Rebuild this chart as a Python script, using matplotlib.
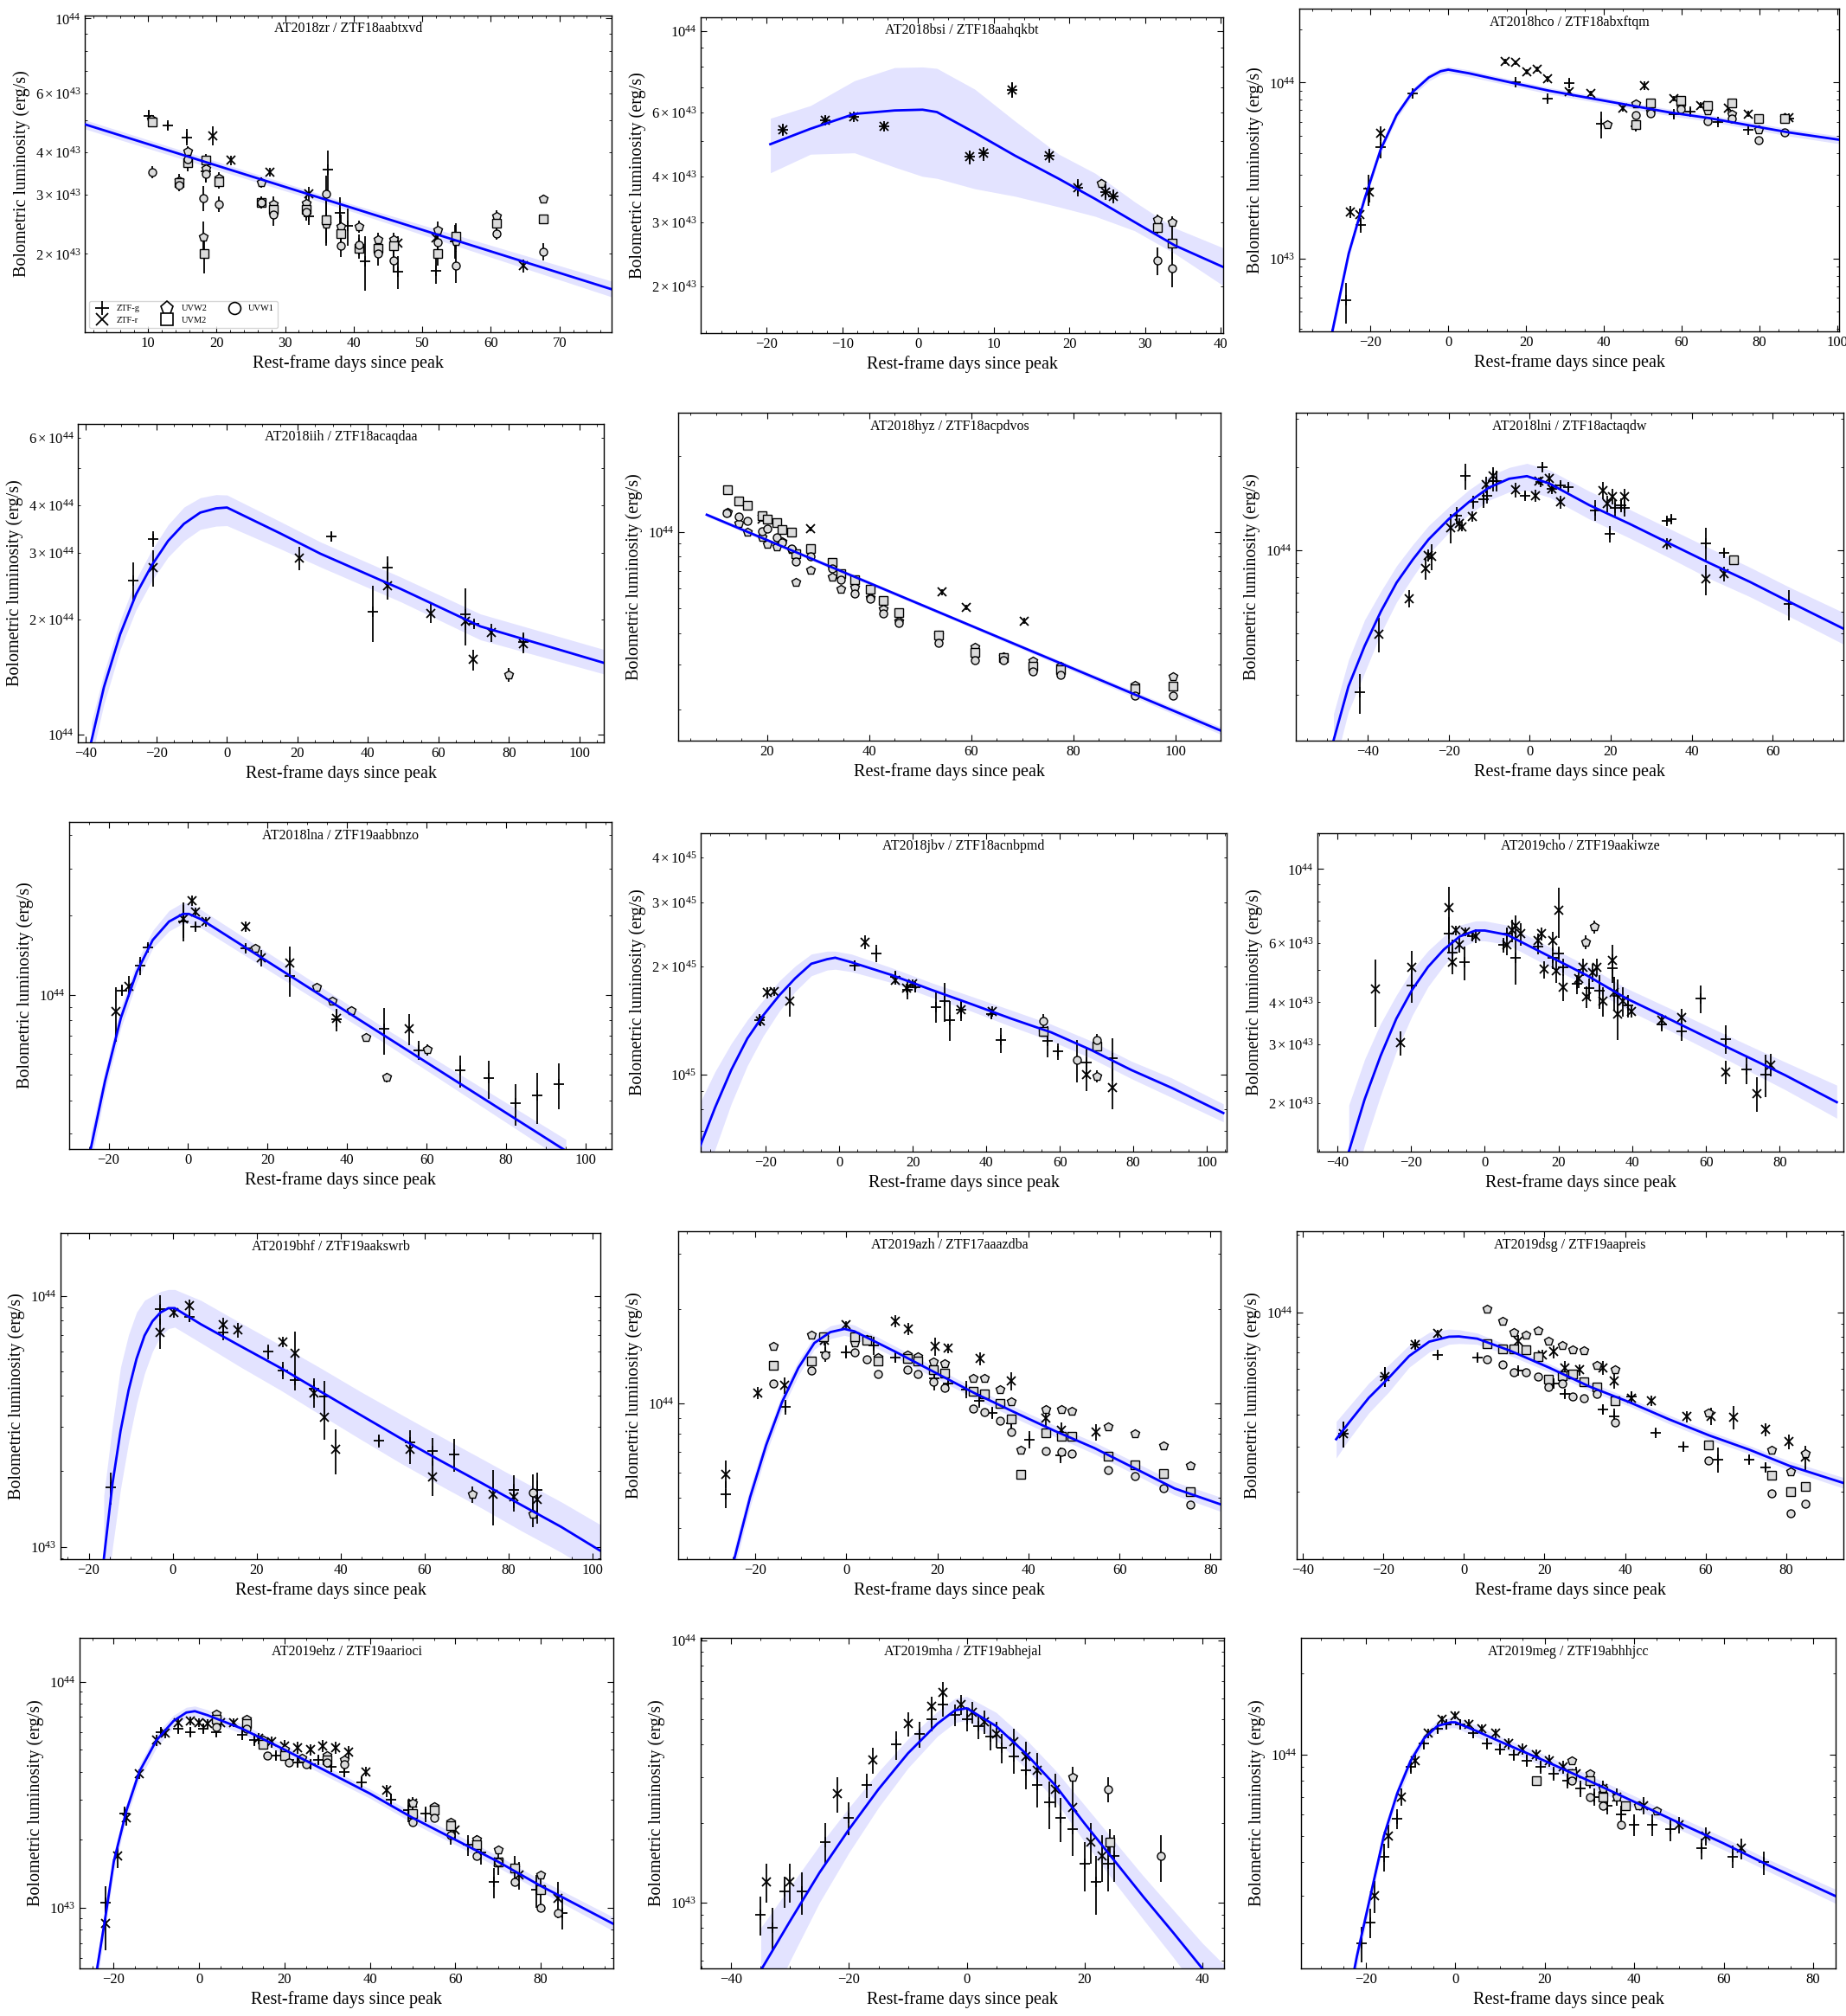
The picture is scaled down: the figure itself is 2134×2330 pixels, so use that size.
import matplotlib
matplotlib.use("Agg")
import matplotlib.pyplot as plt
from matplotlib.ticker import MultipleLocator, AutoMinorLocator
from matplotlib.lines import Line2D
import numpy as np

plt.rcParams.update({
    "font.family": ["Liberation Serif", "DejaVu Serif"],
    "mathtext.fontset": "custom",
    "mathtext.rm": "Liberation Serif",
    "mathtext.it": "Liberation Serif:italic",
    "mathtext.bf": "Liberation Serif:bold",
    "axes.linewidth": 1.0,
    "xtick.direction": "in", "ytick.direction": "in",
    "xtick.top": True, "ytick.right": True,
    "xtick.major.size": 5, "ytick.major.size": 5,
    "xtick.minor.size": 2.5, "ytick.minor.size": 2.5,
    "xtick.labelsize": 12, "ytick.labelsize": 12,
})

# ---------------- data: (day, L, err) in units given per panel ----------------
# Panel 1  AT2018zr  (1e43)
P1_G = [(10.1,5.15,0.2),(12.9,4.80,0.12),(15.7,4.44,0.25),(18.4,3.52,0.25),(33.4,2.59,0.15),(36.2,3.56,0.5),(38.0,2.64,0.3),(39.1,2.42,0.3),(41.7,1.90,0.35),(46.5,1.77,0.2),(52.0,1.78,0.15),(54.8,2.18,0.25)]
P1_R = [(19.5,4.49,0.3),(22.1,3.79,0.12),(27.8,3.50,0.1),(33.4,3.02,0.15),(46.5,2.15,0.1),(52.0,2.23,0.1),(64.7,1.84,0.08)]
P1_W2 = [(10.5,5.02,0.15),(15.8,4.03,0.15),(14.5,3.30,0.15),(18.4,3.57,0.25),(18.1,2.24,0.25),(20.3,3.35,0.15),(26.5,3.26,0.12),(28.3,2.81,0.15),(33.1,2.83,0.15),(36.0,2.45,0.3),(38.1,2.41,0.2),(40.8,2.41,0.1),(43.6,2.21,0.1),(45.8,2.21,0.1),(52.3,2.35,0.15),(54.9,2.18,0.15),(60.8,2.59,0.1),(67.7,2.91,0.08)]
P1_M2 = [(10.6,4.94,0.15),(15.8,3.72,0.2),(14.5,3.26,0.12),(18.4,3.80,0.15),(18.2,2.00,0.25),(20.3,3.27,0.15),(26.5,2.85,0.12),(28.3,2.71,0.15),(33.1,2.71,0.15),(36.0,2.52,0.4),(38.1,2.30,0.2),(40.8,2.08,0.15),(43.6,2.08,0.1),(45.8,2.11,0.15),(52.3,2.00,0.15),(54.9,2.26,0.2),(60.8,2.47,0.1),(67.7,2.54,0.08)]
P1_W1 = [(10.6,3.50,0.15),(15.8,3.83,0.2),(14.5,3.19,0.12),(18.4,3.46,0.2),(18.1,2.93,0.25),(20.3,2.81,0.15),(26.5,2.85,0.12),(28.3,2.62,0.2),(33.1,2.66,0.15),(36.0,3.02,0.4),(38.1,2.11,0.15),(40.8,2.13,0.15),(43.6,2.00,0.15),(45.8,1.91,0.15),(52.3,2.17,0.15),(54.9,1.84,0.2),(60.8,2.30,0.1),(67.7,2.03,0.12)]
P1_MT = [0.8, 40.0, 77.6]
P1_ML = [4.85, 2.73, 1.57]
P1_MU = [5.00, 2.80, 1.66]
P1_MD = [4.70, 2.66, 1.49]

# Panel 2  AT2018bsi  (1e43)
P2_G = [(-17.9,5.37,0.2),(-12.2,5.69,0.15),(-8.5,5.82,0.1),(-4.5,5.47,0.12),(6.8,4.52,0.2),(8.7,4.62,0.2),(12.4,6.9,0.35),(17.3,4.55,0.2),(21.1,3.73,0.2),(24.8,3.63,0.18),(25.8,3.53,0.15)]
P2_R = [(-17.9,5.37,0.15),(-12.2,5.69,0.12),(-8.5,5.82,0.1),(-4.5,5.47,0.1),(6.8,4.52,0.15),(8.7,4.62,0.15),(12.4,6.9,0.3),(17.3,4.55,0.15),(21.1,3.73,0.15),(24.8,3.63,0.15),(25.8,3.53,0.12)]
P2_W2 = [(24.2,3.83,0.1),(31.6,3.04,0.1),(33.6,2.99,0.12)]
P2_M2 = [(31.6,2.89,0.1),(33.6,2.62,0.25)]
P2_W1 = [(31.6,2.35,0.2),(33.6,2.24,0.25)]
P2_MT = [-19.5,-14.2,-8.4,-3.1,0.6,2.5,7.5,12.8,18.6,23.4,28.6,33.9,40.3]
P2_ML = [4.90,5.40,5.93,6.06,6.09,6.00,5.27,4.56,3.94,3.47,3.00,2.59,2.26]
P2_MU = [5.77,6.25,7.31,7.94,7.97,7.90,6.93,5.67,4.60,4.08,3.41,2.89,2.55]
P2_MD = [4.09,4.60,4.64,4.24,4.00,3.95,3.70,3.53,3.30,3.11,2.84,2.46,2.01]

# Panel 3  AT2018hco  (1e43)
P3_G = [(-26.2,0.58,0.15),(-22.6,1.56,0.15),(-20.5,2.5,0.5),(-17.4,4.3,0.6),(-9.2,8.67,0.3),(17.4,10.07,0.3),(25.5,8.13,0.3),(31.0,9.89,0.6),(39.3,5.83,1.0),(48.3,5.62,0.3),(58.0,6.58,0.3),(62.2,6.86,0.3),(69.3,5.99,0.2),(77.2,5.41,0.2),(87.7,6.24,0.3)]
P3_R = [(-25.1,1.85,0.15),(-22.8,1.78,0.15),(-20.3,2.38,0.3),(-17.4,5.15,0.5),(14.7,13.2,0.4),(17.4,13.0,0.4),(20.1,11.5,0.4),(22.8,11.9,0.4),(25.5,10.5,0.4),(31.0,8.9,0.3),(36.7,8.67,0.3),(45.0,7.15,0.3),(50.4,9.63,0.5),(58.0,8.13,0.3),(65.0,7.45,0.3),(72.0,7.18,0.3),(77.2,6.65,0.25),(87.7,6.3,0.3)]
P3_W2 = [(40.8,5.79,0.2),(48.3,7.54,0.2),(51.9,6.86,0.2),(59.8,7.31,0.2),(66.7,6.96,0.2),(73.0,6.58,0.2),(79.8,5.37,0.2),(86.4,6.29,0.2)]
P3_M2 = [(48.3,5.79,0.2),(51.9,7.68,0.2),(59.8,7.94,0.2),(66.7,7.45,0.2),(73.0,7.68,0.2),(79.8,6.24,0.2),(86.4,6.24,0.2)]
P3_W1 = [(48.3,6.53,0.2),(51.9,6.66,0.2),(59.8,7.12,0.2),(66.7,6.06,0.2),(73.0,6.28,0.2),(79.8,4.71,0.2),(86.4,5.21,0.2)]
P3_MT = [-29.8,-25.6,-21.5,-17.4,-13.3,-9.2,-5.0,-2.0,0.0,5.3,15.6,25.9,36.2,46.5,56.8,67.1,77.4,87.7,100.5]
P3_ML = [0.387,1.07,2.19,4.16,6.53,8.83,10.7,11.6,11.85,11.3,10.07,9.0,8.18,7.45,6.78,6.29,5.72,5.21,4.74]
P3_MU = [0.42,1.14,2.32,4.38,6.85,9.25,11.2,12.1,12.35,11.8,10.5,9.38,8.52,7.77,7.08,6.57,5.98,5.46,4.98]
P3_MD = [0.36,1.00,2.07,3.95,6.22,8.42,10.2,11.1,11.35,10.8,9.65,8.63,7.85,7.14,6.49,6.02,5.47,4.97,4.50]

# Panel 4  AT2018iih  (1e44)
P4_G = [(-26.6,2.53,0.3),(-20.9,3.26,0.15),(29.7,3.30,0.1),(41.3,2.10,0.35),(45.5,2.74,0.2),(67.6,2.06,0.35),(70.2,1.95,0.04),(84.1,1.75,0.1)]
P4_R = [(-20.9,2.74,0.3),(20.6,2.90,0.2),(45.5,2.46,0.2),(57.8,2.08,0.12),(67.6,1.98,0.1),(69.8,1.57,0.1),(75.1,1.85,0.1),(84.1,1.73,0.1)]
P4_W2 = [(79.9,1.43,0.06)]
P4_M2 = []
P4_W1 = []
P4_MT = [-38.5,-34.9,-30.3,-25.8,-21.3,-16.7,-12.2,-7.6,-3.1,0.0,15.1,26.5,49.2,71.9,106.9]
P4_ML = [0.957,1.33,1.83,2.33,2.78,3.22,3.57,3.82,3.92,3.94,3.37,2.98,2.41,1.92,1.54]
P4_MU = [1.07,1.45,1.99,2.55,3.05,3.55,3.95,4.18,4.26,4.25,3.62,3.20,2.59,2.07,1.67]
P4_MD = [0.86,1.20,1.67,2.12,2.53,2.92,3.22,3.45,3.52,3.53,3.07,2.75,2.23,1.77,1.44]

# Panel 5  AT2018hyz  (1e44)
P5_G = []
P5_R = [(19.1,1.12,0.02),(28.5,1.03,0.02),(54.3,0.58,0.015),(59.0,0.505,0.012),(70.4,0.447,0.012)]
P5_W2 = [(12.2,1.20),(14.4,1.08),(16.1,1.00),(19.1,0.957),(20.0,0.896),(22.0,0.873),(23.0,0.92),(24.8,0.855),(25.6,0.635),(28.5,0.707),(32.7,0.667),(34.5,0.598),(37.2,0.603),(40.3,0.55),(42.8,0.496),(45.8,0.447),(53.7,0.394),(60.7,0.351),(66.4,0.324),(72.1,0.310),(77.6,0.296),(92.1,0.25),(99.5,0.27)]
P5_M2 = [(12.2,1.47),(14.5,1.33),(16.1,1.27),(19.1,1.16),(20.0,1.12),(22.0,1.09),(23.0,1.02),(24.8,1.00),(25.7,0.822),(28.5,0.862),(32.7,0.760),(34.5,0.685),(37.2,0.647),(40.3,0.594),(42.8,0.539),(45.8,0.483),(53.7,0.392),(60.7,0.335),(66.4,0.32),(72.1,0.296),(77.6,0.288),(92.1,0.241),(99.5,0.248)]
P5_W1 = [(12.1,1.19),(14.4,1.15),(16.1,1.11),(19.1,1.01),(20.0,1.03),(22.0,0.952),(23.0,0.908),(24.8,0.862),(25.6,0.766),(28.5,0.801),(32.7,0.718),(34.5,0.647),(37.2,0.575),(40.3,0.546),(42.8,0.48),(45.8,0.438),(53.7,0.365),(60.7,0.313),(66.4,0.312),(72.1,0.282),(77.6,0.275),(92.1,0.227),(99.5,0.227)]
P5_MT = [8.2, 60.6, 108.9]
P5_ML = [1.17, 0.423, 0.1655]
P5_MU = [1.19, 0.430, 0.171]
P5_MD = [1.15, 0.416, 0.160]

# Panel 6  AT2018lni  (1e44)
P6_G = [(-42.0,0.306,0.05),(-18.0,1.34,0.1),(-15.8,1.86,0.2),(-13.9,1.50,0.08),(-11.5,1.53,0.1),(-10.6,1.58,0.1),(-9.1,1.79,0.15),(-8.3,1.79,0.15),(-1.2,1.58,0.05),(2.7,1.77,0.05),(3.2,2.01,0.08),(5.5,1.67,0.05),(7.5,1.72,0.05),(9.5,1.70,0.05),(16.2,1.40,0.12),(19.8,1.15,0.08),(21.1,1.43,0.1),(22.6,1.46,0.08),(23.4,1.43,0.1),(33.8,1.28,0.04),(35.0,1.30,0.05),(43.6,1.06,0.15),(48.1,0.98,0.03),(64.0,0.638,0.08)]
P6_R = [(-37.3,0.498,0.07),(-29.9,0.669,0.05),(-25.7,0.861,0.08),(-25.0,0.96,0.05),(-24.2,0.95,0.1),(-19.5,1.21,0.15),(-17.5,1.25,0.06),(-16.7,1.22,0.05),(-14.1,1.33,0.06),(-10.8,1.73,0.12),(-9.1,1.86,0.15),(-3.6,1.66,0.1),(1.4,1.58,0.08),(2.3,1.79,0.05),(4.8,1.82,0.08),(5.5,1.67,0.05),(7.7,1.50,0.08),(18.1,1.65,0.12),(19.1,1.48,0.1),(20.4,1.57,0.1),(23.4,1.57,0.1),(34.0,1.06,0.05),(43.6,0.786,0.1),(47.9,0.821,0.05)]
P6_W2 = []
P6_M2 = [(50.4,0.926,0.02)]
P6_W1 = []
P6_MT = [-48.5,-44.8,-40.8,-36.8,-32.9,-28.9,-25.0,-20.0,-15.0,-10.1,-5.1,-0.7,4.8,14.7,24.6,34.5,44.4,54.3,64.2,77.5]
P6_ML = [0.204,0.321,0.450,0.60,0.764,0.926,1.096,1.30,1.50,1.69,1.82,1.86,1.75,1.46,1.25,1.06,0.90,0.77,0.65,0.52]
P6_MU = [0.255,0.40,0.56,0.71,0.88,1.05,1.23,1.44,1.66,1.86,2.00,2.07,1.96,1.64,1.41,1.20,1.02,0.87,0.735,0.595]
P6_MD = [0.16,0.26,0.36,0.50,0.65,0.80,0.97,1.16,1.35,1.52,1.63,1.65,1.56,1.30,1.11,0.94,0.79,0.68,0.575,0.457]

# Panel 7  AT2018lna  (1e44)
P7_G = [(-16.6,1.04,0.05),(-12.1,1.29,0.1),(-10.1,1.51,0.05),(-1.1,1.89,0.3),(1.8,1.81,0.05),(14.5,1.50,0.05),(25.6,1.18,0.2),(37.3,0.808,0.08),(49.2,0.744,0.15),(57.9,0.618,0.05),(68.5,0.518,0.07),(75.7,0.484,0.08),(82.3,0.391,0.07),(87.8,0.417,0.09),(93.2,0.461,0.09)]
P7_R = [(-18.2,0.865,0.2),(-14.9,1.08,0.1),(-1.1,1.94,0.3),(0.9,2.27,0.1),(1.8,2.06,0.07),(4.5,1.89,0.08),(14.5,1.81,0.08),(18.3,1.38,0.1),(25.6,1.32,0.2),(37.3,0.818,0.06),(55.6,0.744,0.1)]
P7_W2 = [(16.8,1.50,0.03),(32.4,1.07,0.03),(36.3,0.947,0.02),(41.1,0.871,0.03),(44.7,0.69,0.02),(50.0,0.489,0.02),(60.1,0.622,0.03)]
P7_M2 = []
P7_W1 = []
P7_MT = [-24.5,-20.9,-16.9,-12.9,-8.9,-4.8,-1.3,0.2,3.2,50.0,95.0]
P7_ML = [0.262,0.472,0.819,1.22,1.61,1.89,2.02,2.02,1.93,0.692,0.258]
P7_MU = [0.30,0.52,0.90,1.33,1.75,2.08,2.23,2.22,2.10,0.74,0.285]
P7_MD = [0.23,0.43,0.75,1.12,1.50,1.74,1.86,1.86,1.79,0.65,0.235]

# Panel 8  AT2018jbv  (1e45)
P8_G = [(-21.6,1.42,0.05),(4.1,2.01,0.06),(10.0,2.17,0.12),(15.2,1.87,0.07),(18.5,1.72,0.1),(20.7,1.75,0.06),(26.4,1.54,0.15),(28.6,1.60,0.2),(30.2,1.42,0.18),(33.2,1.51,0.1),(41.4,1.47,0.04),(43.9,1.25,0.1),(56.6,1.24,0.12),(59.6,1.16,0.06),(67.3,1.08,0.1),(74.4,1.11,0.15)]
P8_R = [(-21.5,1.41,0.05),(-19.5,1.69,0.06),(-17.6,1.70,0.05),(-13.5,1.60,0.15),(7.1,2.33,0.1),(15.2,1.83,0.05),(18.3,1.74,0.05),(19.9,1.79,0.05),(33.2,1.51,0.08),(41.7,1.50,0.05),(67.3,1.00,0.1),(74.4,0.92,0.12)]
P8_W2 = [(55.5,1.31,0.03),(70.2,0.99,0.04)]
P8_M2 = [(55.5,1.32,0.03),(70.2,1.20,0.04)]
P8_W1 = [(55.5,1.41,0.06),(64.6,1.10,0.15),(70.2,1.25,0.05)]
P8_MT = [-38.3,-33.8,-29.4,-25.0,-20.7,-16.3,-12.0,-7.6,-3.3,-1.1,3.3,14.2,25.0,35.9,46.8,57.7,68.6,79.5,90.4,104.5]
P8_ML = [0.617,0.81,1.03,1.26,1.46,1.66,1.85,2.03,2.09,2.11,2.05,1.89,1.72,1.57,1.43,1.31,1.17,1.03,0.92,0.783]
P8_MU = [0.82,1.02,1.22,1.42,1.61,1.82,2.00,2.16,2.20,2.20,2.16,1.98,1.80,1.65,1.51,1.38,1.24,1.09,0.98,0.83]
P8_MD = [0.50,0.62,0.83,1.06,1.28,1.50,1.70,1.88,1.95,1.96,1.93,1.80,1.64,1.50,1.36,1.24,1.11,0.975,0.865,0.74]

# Panel 9  AT2019cho  (1e43)
P9_G = [(-19.7,4.49,0.5),(-9.7,6.4,0.8),(-8.9,5.64,0.5),(-5.5,5.26,0.6),(-3.3,6.3,0.2),(5.1,5.93,0.3),(6.1,6.4,0.3),(8.3,5.42,0.9),(14.5,5.87,0.3),(18.5,5.42,0.4),(20.1,5.58,0.3),(21.2,5.1,0.3),(25.0,4.53,0.3),(28.2,4.40,0.3),(31.1,4.32,0.5),(34.7,5.06,0.5),(36.1,4.19,0.5),(38.8,3.91,0.3),(47.9,3.43,0.15),(53.5,3.27,0.2),(58.6,4.10,0.4),(65.4,3.11,0.3),(71.1,2.52,0.25),(76.2,2.43,0.35)]
P9_R = [(-29.6,4.38,1.0),(-22.9,3.02,0.25),(-19.7,5.1,0.6),(-9.7,7.67,1.2),(-8.9,5.26,0.4),(-7.9,6.55,0.2),(-7.0,5.93,0.3),(-5.2,6.5,0.2),(-2.5,6.3,0.3),(6.1,5.93,0.4),(7.4,6.55,0.5),(8.3,6.75,0.5),(9.7,6.4,0.5),(14.5,6.1,0.3),(15.3,6.4,0.3),(16.2,5.01,0.3),(18.5,6.1,0.4),(19.4,4.97,0.4),(20.1,7.52,1.3),(21.2,4.44,0.4),(25.5,4.72,0.3),(26.6,5.1,0.3),(27.7,4.15,0.3),(29.3,4.9,0.3),(30.4,5.1,0.3),(32.0,4.03,0.4),(34.7,5.32,0.6),(35.2,4.27,0.5),(36.1,3.68,0.6),(37.4,4.03,0.4),(39.9,3.75,0.15),(47.9,3.54,0.15),(53.5,3.61,0.2),(65.4,2.47,0.2),(73.8,2.13,0.25),(77.5,2.60,0.2)]
P9_W2 = [(27.4,6.05,0.3),(29.6,6.71,0.3)]
P9_M2 = []
P9_W1 = []
P9_MT = [-36.9,-32.6,-28.3,-24.0,-19.7,-15.4,-11.1,-6.8,-2.5,0.0,6.1,16.9,27.7,38.5,49.2,60.0,70.8,81.5,95.5]
P9_ML = [1.43,2.05,2.76,3.57,4.36,5.10,5.75,6.29,6.55,6.55,6.36,5.53,4.81,4.10,3.60,3.15,2.76,2.42,2.01]
P9_MU = [1.97,2.70,3.45,4.20,5.00,5.70,6.30,6.80,7.00,7.00,6.80,5.90,5.15,4.40,3.88,3.41,3.00,2.65,2.26]
P9_MD = [1.00,1.50,2.10,2.85,3.65,4.45,5.15,5.80,6.10,6.10,5.95,5.15,4.48,3.80,3.33,2.90,2.52,2.19,1.80]

# Panel 10  AT2019bhf  (1e43)
P10_G = [(-14.8,1.72,0.25),(-3.1,8.85,1.2),(4.0,8.24,0.4),(12.1,7.16,0.5),(22.7,6.0,0.4),(26.3,5.05,0.4),(29.1,4.61,0.4),(33.7,4.28,0.4),(36.1,3.98,0.6),(49.1,2.64,0.15),(56.5,2.61,0.3),(62.0,2.41,0.3),(67.0,2.34,0.35),(81.3,1.68,0.25),(86.8,1.68,0.3)]
P10_R = [(-3.1,7.13,1.0),(0.3,8.58,0.4),(4.0,9.16,0.5),(12.1,7.67,0.5),(15.6,7.32,0.5),(26.3,6.55,0.3),(29.1,5.92,1.3),(33.7,4.09,0.5),(36.1,3.27,0.6),(38.8,2.44,0.5),(56.5,2.44,0.3),(62.0,1.90,0.3),(76.3,1.62,0.4),(81.3,1.58,0.2),(86.8,1.54,0.3)]
P10_W2 = [(71.4,1.62,0.12),(85.9,1.35,0.15)]
P10_M2 = []
P10_W1 = [(85.9,1.64,0.3)]
P10_MT = [-16.4,-14.3,-12.4,-10.5,-8.6,-6.7,-4.8,-2.9,-1.0,0.5,6.7,16.2,25.8,35.3,44.8,54.4,63.9,73.5,83.0,92.6,102.1]
P10_ML = [0.893,1.80,2.90,4.20,5.61,6.94,7.92,8.58,8.93,8.93,7.71,6.30,5.15,4.15,3.35,2.70,2.20,1.80,1.47,1.20,0.96]
P10_MU = [1.6,3.1,5.2,7.0,8.6,9.6,10.0,10.4,10.6,10.6,9.6,7.8,6.35,5.15,4.15,3.37,2.75,2.25,1.84,1.51,1.22]
P10_MD = [0.5,1.0,1.7,2.6,3.7,4.9,6.0,6.9,7.4,7.5,6.5,5.2,4.2,3.35,2.68,2.15,1.75,1.43,1.16,0.95,0.76]

# Panel 11  AT2019azh  (1e44)
P11_G = [(-26.4,0.513,0.05),(-13.4,0.973,0.05),(-4.7,1.46,0.1),(0.0,1.46,0.07),(6.0,1.53,0.1),(10.8,1.40,0.05),(19.3,1.20,0.1),(22.4,1.16,0.07),(26.4,1.11,0.07),(29.2,1.02,0.05),(32.1,0.932,0.04),(36.3,0.862,0.05),(40.2,0.767,0.05),(47.0,0.683,0.04)]
P11_R = [(-26.4,0.595,0.06),(-19.5,1.08,0.05),(-13.6,1.14,0.07),(-4.8,1.59,0.06),(0.0,1.78,0.05),(10.8,1.83,0.08),(13.6,1.73,0.08),(19.5,1.52,0.1),(22.4,1.50,0.05),(29.3,1.39,0.07),(36.3,1.18,0.08),(43.9,0.90,0.05),(47.2,0.82,0.05),(54.9,0.809,0.05)]
P11_W2 = [(-16.0,1.52),(-7.6,1.65),(1.8,1.56),(4.6,1.60),(7.0,1.40),(13.4,1.43),(15.8,1.41),(19.1,1.36),(21.6,1.34),(27.9,1.20),(30.3,1.20),(33.7,1.11),(36.3,1.01),(38.4,0.708),(43.9,0.958),(47.3,0.958),(49.5,0.944),(57.6,0.844),(63.3,0.80),(69.7,0.732),(75.6,0.632)]
P11_M2 = [(-16.1,1.32),(-7.6,1.37),(-5.0,1.63),(1.8,1.63),(4.6,1.59),(7.0,1.37),(13.4,1.39),(15.8,1.37),(19.1,1.28),(21.6,1.25),(27.9,1.09),(30.3,1.07),(33.7,1.00),(36.3,0.894),(38.4,0.595),(43.9,0.804),(47.3,0.784),(49.5,0.784),(57.6,0.68),(63.3,0.637),(69.7,0.597),(75.6,0.524)]
P11_W1 = [(-16.0,1.16),(-7.6,1.27),(-4.6,1.43),(1.8,1.46),(4.6,1.38),(7.0,1.24),(13.4,1.28),(15.8,1.24),(19.1,1.17),(21.6,1.12),(27.9,0.965),(30.3,0.938),(33.7,0.88),(36.3,0.809),(43.9,0.705),(47.3,0.70),(49.5,0.693),(57.6,0.614),(63.3,0.585),(69.7,0.535),(75.6,0.476)]
P11_MT = [-24.6,-21.1,-17.6,-14.1,-10.5,-7.0,-3.5,-0.4,1.8,10.5,19.3,28.1,36.9,45.7,54.5,63.3,72.1,82.2]
P11_ML = [0.318,0.502,0.735,1.01,1.30,1.56,1.69,1.73,1.70,1.47,1.26,1.08,0.938,0.818,0.72,0.621,0.535,0.476]
P11_MU = [0.345,0.54,0.785,1.07,1.37,1.64,1.77,1.81,1.78,1.53,1.31,1.12,0.975,0.852,0.752,0.65,0.562,0.502]
P11_MD = [0.295,0.468,0.69,0.955,1.23,1.49,1.61,1.65,1.62,1.41,1.21,1.04,0.90,0.785,0.69,0.594,0.51,0.452]

# Panel 12  AT2019dsg  (1e44)
P12_G = [(-30.0,0.336,0.04),(-19.6,0.563,0.05),(-12.1,0.748,0.03),(-6.4,0.684,0.02),(3.3,0.666,0.02),(13.5,0.593,0.02),(22.2,0.528,0.02),(25.0,0.482,0.02),(34.6,0.418,0.02),(37.4,0.392,0.03),(41.7,0.47,0.02),(47.5,0.34,0.01),(54.5,0.299,0.01),(63.1,0.267,0.03),(70.7,0.267,0.01),(74.9,0.249,0.01)]
P12_R = [(-30.0,0.336,0.04),(-19.6,0.563,0.05),(-12.1,0.748,0.03),(-6.4,0.826,0.03),(13.5,0.774,0.04),(19.5,0.684,0.03),(22.2,0.701,0.04),(25.0,0.608,0.04),(28.8,0.596,0.03),(34.6,0.608,0.04),(37.4,0.542,0.04),(41.7,0.464,0.02),(46.5,0.452,0.02),(55.3,0.392,0.02),(61.4,0.394,0.03),(66.9,0.39,0.04),(74.9,0.349,0.02),(80.6,0.313,0.02),(84.8,0.272,0.03)]
P12_W2 = [(5.8,1.03),(9.5,0.921),(12.4,0.837),(15.4,0.815),(18.5,0.848),(20.9,0.772),(24.5,0.745),(26.9,0.716),(29.7,0.711),(32.9,0.62),(37.6,0.598),(60.7,0.406),(76.3,0.289),(81.0,0.239),(84.8,0.282)]
P12_M2 = [(5.8,0.754),(9.5,0.72),(12.4,0.72),(15.4,0.714),(18.5,0.67),(20.9,0.549),(24.5,0.566),(26.9,0.575),(29.7,0.535),(32.9,0.511),(37.6,0.45),(60.7,0.304),(76.3,0.231),(81.0,0.20),(84.8,0.21)]
P12_W1 = [(5.8,0.654),(9.5,0.625),(12.4,0.585),(15.4,0.582),(18.5,0.563),(20.9,0.511),(24.5,0.528),(26.9,0.47),(29.7,0.464),(32.9,0.482),(37.6,0.372),(60.7,0.265),(76.3,0.197),(81.0,0.164),(84.8,0.179)]
P12_MT = [-31.7,-28.5,-23.6,-18.6,-13.6,-8.6,-3.7,-1.2,3.3,11.2,21.2,31.1,41.1,51.0,60.9,70.9,80.8,94.2]
P12_ML = [0.32,0.372,0.464,0.556,0.675,0.768,0.803,0.805,0.789,0.711,0.608,0.514,0.446,0.382,0.331,0.291,0.252,0.216]
P12_MU = [0.375,0.43,0.53,0.625,0.745,0.835,0.86,0.855,0.83,0.74,0.63,0.535,0.463,0.397,0.344,0.302,0.263,0.227]
P12_MD = [0.27,0.32,0.405,0.49,0.61,0.70,0.75,0.755,0.75,0.68,0.585,0.495,0.43,0.367,0.318,0.28,0.242,0.206]

# Panel 13  AT2019ehz  (1e44)
P13_G = [(-22,0.105,0.02),(-17.5,0.26,0.02),(-9,0.60,0.03),(-5,0.62,0.03),(-2,0.60,0.03),(1,0.62,0.03),(4,0.60,0.03),(10,0.58,0.03),(13,0.55,0.03),(18,0.47,0.02),(21,0.45,0.02),(23,0.44,0.02),(26,0.43,0.02),(28,0.45,0.02),(31,0.42,0.02),(34,0.40,0.02),(38,0.36,0.02),(45,0.30,0.02),(49,0.27,0.03),(53,0.26,0.02),(59,0.21,0.02),(63,0.19,0.02),(66,0.175,0.02),(69,0.13,0.02),(74,0.15,0.02),(79,0.12,0.02),(85,0.095,0.015)]
P13_R = [(-22,0.085,0.02),(-19,0.17,0.02),(-17,0.25,0.02),(-14,0.39,0.02),(-10,0.55,0.03),(-8,0.59,0.03),(-5,0.66,0.03),(-2,0.67,0.03),(0,0.66,0.03),(2,0.65,0.03),(5,0.66,0.03),(8,0.66,0.03),(11,0.66,0.03),(14,0.56,0.03),(17,0.54,0.03),(20,0.52,0.03),(23,0.51,0.03),(26,0.50,0.03),(29,0.52,0.03),(32,0.51,0.03),(35,0.49,0.03),(39,0.40,0.02),(44,0.33,0.02),(50,0.29,0.02),(55,0.27,0.02),(60,0.22,0.02),(65,0.19,0.02),(70,0.16,0.02),(75,0.14,0.02),(80,0.12,0.02),(84,0.11,0.02)]
P13_W2 = [(4,0.72),(11,0.68),(15,0.55),(20,0.50),(24,0.46),(30,0.47),(34,0.45),(50,0.29),(55,0.28),(59,0.24),(65,0.20),(70,0.18),(74,0.15),(80,0.14)]
P13_M2 = [(4,0.68),(11,0.65),(15,0.53),(20,0.47),(30,0.45),(50,0.26),(55,0.27),(59,0.23),(65,0.19),(70,0.16),(74,0.15),(80,0.12)]
P13_W1 = [(4,0.63),(11,0.62),(16,0.47),(21,0.44),(25,0.43),(30,0.44),(34,0.43),(50,0.24),(55,0.25),(59,0.21),(65,0.17),(70,0.16),(74,0.13),(80,0.10),(84,0.095)]
P13_MT = [-25,-22,-20,-17,-14,-10,-6,-3,-1,2,10,20,30,40,50,60,70,80,97]
P13_ML = [0.04,0.09,0.16,0.27,0.40,0.55,0.67,0.73,0.74,0.71,0.62,0.50,0.40,0.32,0.25,0.20,0.16,0.125,0.085]
P13_MU = [0.045,0.10,0.175,0.29,0.43,0.59,0.71,0.77,0.78,0.75,0.65,0.525,0.42,0.335,0.265,0.212,0.17,0.133,0.091]
P13_MD = [0.035,0.08,0.145,0.25,0.37,0.51,0.63,0.69,0.70,0.67,0.59,0.475,0.38,0.305,0.237,0.19,0.151,0.118,0.079]

# Panel 14  AT2019mha  (1e44)
P14_G = [(-35,0.09,0.015),(-33,0.08,0.015),(-31,0.11,0.015),(-28,0.11,0.02),(-24,0.17,0.03),(-20,0.21,0.03),(-17,0.28,0.03),(-12,0.40,0.05),(-8,0.44,0.05),(-6,0.50,0.05),(-4,0.57,0.06),(-2,0.52,0.05),(0,0.50,0.05),(2,0.47,0.05),(4,0.43,0.05),(6,0.39,0.05),(8,0.36,0.05),(10,0.32,0.05),(12,0.28,0.05),(14,0.24,0.05),(16,0.21,0.04),(18,0.19,0.04),(20,0.14,0.03),(22,0.12,0.03),(24,0.14,0.03),(25,0.15,0.03)]
P14_R = [(-34,0.12,0.02),(-30,0.12,0.02),(-22,0.26,0.04),(-16,0.35,0.04),(-10,0.48,0.05),(-6,0.56,0.05),(-4,0.63,0.06),(-1,0.57,0.05),(1,0.53,0.05),(3,0.49,0.05),(5,0.44,0.05),(8,0.41,0.05),(10,0.36,0.05),(12,0.32,0.05),(15,0.27,0.04),(18,0.23,0.04),(21,0.17,0.03),(23,0.15,0.03)]
P14_W2 = [(18,0.30,0.03)]
P14_M2 = [(24.3,0.17,0.02)]
P14_W1 = [(24,0.27,0.03),(33,0.15,0.03)]
P14_MT = [-35,-30,-25,-20,-15,-10,-5,-2,0,5,10,15,20,25,30,35,40,44]
P14_ML = [0.055,0.085,0.13,0.19,0.27,0.37,0.48,0.54,0.55,0.47,0.37,0.28,0.20,0.145,0.105,0.077,0.056,0.045]
P14_MU = [0.08,0.115,0.165,0.23,0.315,0.42,0.535,0.60,0.61,0.53,0.42,0.32,0.235,0.172,0.126,0.094,0.07,0.057]
P14_MD = [0.035,0.06,0.10,0.155,0.23,0.325,0.43,0.485,0.495,0.415,0.325,0.245,0.17,0.12,0.086,0.062,0.044,0.035]

# Panel 15  AT2019meg  (1e44)
P15_G = [(-21,0.2,0.03),(-19,0.24,0.03),(-16,0.42,0.05),(-13,0.58,0.05),(-10,0.9,0.05),(-7,1.1,0.05),(-4,1.25,0.05),(-2,1.3,0.05),(1,1.3,0.05),(4,1.2,0.05),(7,1.1,0.05),(10,1.05,0.05),(13,1.0,0.05),(16,0.95,0.05),(19,0.9,0.05),(22,0.85,0.05),(25,0.8,0.05),(28,0.75,0.05),(31,0.7,0.05),(34,0.65,0.05),(37,0.6,0.05),(40,0.55,0.05),(44,0.55,0.05),(48,0.53,0.05),(55,0.45,0.04),(62,0.42,0.04),(69,0.4,0.04)]
P15_R = [(-18,0.3,0.04),(-15,0.5,0.05),(-12,0.7,0.05),(-9,0.95,0.05),(-6,1.2,0.05),(-3,1.35,0.05),(0,1.4,0.05),(3,1.3,0.05),(6,1.25,0.05),(9,1.2,0.05),(12,1.1,0.05),(15,1.05,0.05),(18,1.0,0.05),(21,0.95,0.05),(24,0.9,0.05),(27,0.85,0.05),(30,0.8,0.05),(33,0.75,0.05),(36,0.7,0.05),(42,0.65,0.05),(50,0.55,0.04),(56,0.5,0.04),(64,0.45,0.04)]
P15_W2 = [(26,0.95),(30,0.85),(33,0.75),(36,0.7),(41,0.65),(45,0.62)]
P15_M2 = [(18,0.8),(26,0.85),(30,0.8),(33,0.7),(38,0.65)]
P15_W1 = [(26,0.8),(30,0.7),(33,0.65),(37,0.55)]
P15_MT = [-25,-22,-19,-16,-13,-10,-7,-4,-1,0,5,10,20,30,40,50,60,70,85]
P15_ML = [0.1,0.18,0.3,0.5,0.72,0.95,1.15,1.28,1.32,1.32,1.22,1.12,0.95,0.8,0.67,0.56,0.47,0.39,0.3]
P15_MU = [0.11,0.195,0.32,0.53,0.76,1.0,1.2,1.34,1.38,1.38,1.28,1.17,1.0,0.84,0.705,0.59,0.495,0.41,0.318]
P15_MD = [0.09,0.165,0.28,0.47,0.68,0.9,1.1,1.22,1.26,1.26,1.16,1.07,0.9,0.76,0.635,0.53,0.445,0.37,0.282]

TITLES = ["AT2018zr / ZTF18aabtxvd", "AT2018bsi / ZTF18aahqkbt", "AT2018hco / ZTF18abxftqm",
          "AT2018iih / ZTF18acaqdaa", "AT2018hyz / ZTF18acpdvos", "AT2018lni / ZTF18actaqdw",
          "AT2018lna / ZTF19aabbnzo", "AT2018jbv / ZTF18acnbpmd", "AT2019cho / ZTF19aakiwze",
          "AT2019bhf / ZTF19aakswrb", "AT2019azh / ZTF17aaazdba", "AT2019dsg / ZTF19aapreis",
          "AT2019ehz / ZTF19aarioci", "AT2019mha / ZTF19abhejal", "AT2019meg / ZTF19abhhjcc"]
UNITS = [1e43, 1e43, 1e43, 1e44, 1e44, 1e44, 1e44, 1e45, 1e43, 1e43, 1e44, 1e44, 1e44, 1e44, 1e44]
XLIMS = [(0.8, 77.6), (-28.7, 40.3), (-38.3, 100.5), (-42.3, 106.9), (2.6, 108.9), (-57.8, 77.5),
         (-29.9, 106.5), (-37.7, 105.4), (-45.4, 97.3), (-26.7, 101.9), (-36.9, 82.2), (-41.5, 94.2),
         (-28.0, 97.0), (-45.2, 43.7), (-34.5, 85.0)]
YLIMS = [(1.17e43, 1.02e44), (1.49e43, 1.09e44), (3.87e42, 2.63e44), (9.52e43, 6.53e44),
         (1.51e43, 2.95e44), (2.04e43, 3.16e44), (2.62e43, 4.49e44), (6.12e44, 4.67e45),
         (1.43e43, 1.28e44), (8.93e42, 1.78e44), (3.18e43, 3.55e44), (1.09e43, 2.07e44),
         (5.4e42, 1.56e44), (5.6e42, 1.02e44), (1.62e43, 2.71e44)]
XSTEP = [10, 10, 20, 20, 20, 20, 20, 20, 20, 20, 20, 20, 20, 20, 20]

# axes boxes in pixels (left, right, top, bottom) of the 2134 x 2330 figure
BOXES = [(98, 707, 18, 384), (810, 1414, 20, 385), (1502, 2126, 10, 383),
         (90, 698, 490, 858), (784, 1411, 477, 856), (1498, 2131, 477, 856),
         (80, 707, 950, 1328), (810, 1418, 963, 1331), (1523, 2131, 963, 1331),
         (70, 694, 1425, 1802), (784, 1411, 1423, 1802), (1499, 2131, 1423, 1802),
         (92, 709, 1893, 2275), (810, 1415, 1893, 2275), (1504, 2122, 1893, 2275)]

G = globals()
SERIES = [("G", "+", "black", 8.5, 1.3),
          ("R", "x", "black", 7.5, 1.3),
          ("W2", "p", "0.86", 7.0, 1.0),
          ("M2", "s", "0.86", 6.5, 1.0),
          ("W1", "o", "0.86", 6.5, 1.0)]

W, H = 2134, 2330
fig = plt.figure(figsize=(W / 100, H / 100), dpi=100)

for i in range(15):
    k = i + 1
    l, r, t, b = BOXES[i]
    ax = fig.add_axes([l / W, 1 - b / H, (r - l) / W, (b - t) / H])
    u = UNITS[i]
    mt = np.array(G[f"P{k}_MT"])
    ax.fill_between(mt, np.array(G[f"P{k}_MD"]) * u, np.array(G[f"P{k}_MU"]) * u,
                    color="blue", alpha=0.11, lw=0, zorder=1)
    for key, mk, fc, ms, mew in SERIES:
        data = G[f"P{k}_{key}"]
        if len(data) == 0:
            continue
        tt = np.array([d[0] for d in data])
        LL = np.array([d[1] for d in data]) * u
        ee = np.array([d[2] if len(d) > 2 else 0.0 for d in data]) * u
        mfc = "black" if mk in "+x" else fc
        ax.errorbar(tt, LL, yerr=ee, fmt=mk, ms=ms, mfc=mfc, mec="black", mew=mew,
                    ecolor="black", elinewidth=1.3, capsize=0, zorder=2)
    ax.plot(mt, np.array(G[f"P{k}_ML"]) * u, color="blue", lw=2.0, zorder=3)
    ax.set_yscale("log")
    ax.set_xlim(*XLIMS[i])
    ax.set_ylim(*YLIMS[i])
    ax.xaxis.set_major_locator(MultipleLocator(XSTEP[i]))
    ax.xaxis.set_minor_locator(AutoMinorLocator())
    ax.tick_params(which="both", direction="in", top=True, right=True)
    ax.set_xlabel("Rest-frame days since peak", fontsize=14.5)
    ax.set_ylabel("Bolometric luminosity (erg/s)", fontsize=14.5)
    ax.text(0.5, 0.958, TITLES[i], transform=ax.transAxes, ha="center", va="center", fontsize=11.5)
    if i == 0:
        handles = [Line2D([], [], ls="none", marker="+", ms=11, mec="black", mew=1.3),
                   Line2D([], [], ls="none", marker="x", ms=10, mec="black", mew=1.3),
                   Line2D([], [], ls="none", marker="p", ms=11, mfc="white", mec="black", mew=1.2),
                   Line2D([], [], ls="none", marker="s", ms=10, mfc="white", mec="black", mew=1.2),
                   Line2D([], [], ls="none", marker="o", ms=10, mfc="white", mec="black", mew=1.2)]
        ax.legend(handles, ["ZTF-g", "ZTF-r", "UVW2", "UVM2", "UVW1"], loc="lower left",
                  ncol=3, fontsize=7.5, frameon=True, handletextpad=0.6, columnspacing=2.0,
                  labelspacing=0.4, borderaxespad=0.5)

fig.savefig("out.png", dpi=100)
